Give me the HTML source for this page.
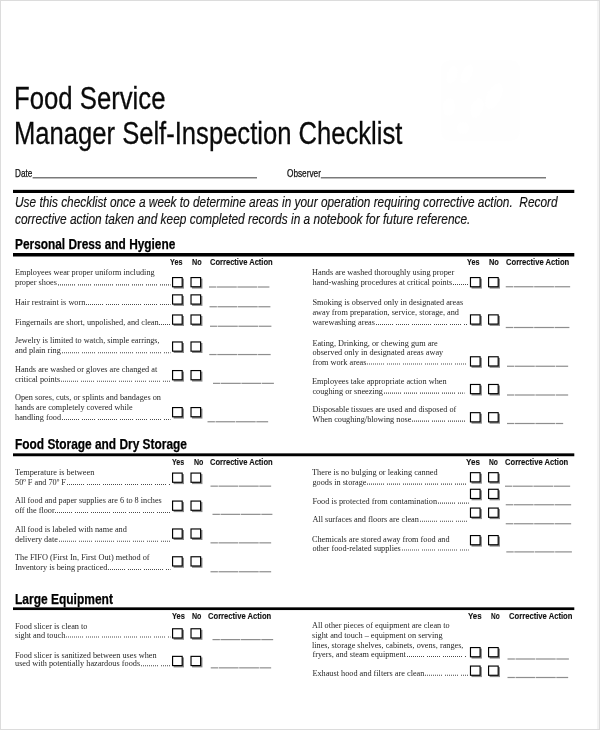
<!DOCTYPE html>
<html><head><meta charset="utf-8"><title>Food Service Manager Self-Inspection Checklist</title>
<style>
html,body{margin:0;padding:0;background:#fff;}
body{width:600px;height:730px;position:relative;overflow:hidden;}
#pg{position:absolute;left:0;top:0;width:600px;height:730px;will-change:transform;}
.t{position:absolute;white-space:pre;transform-origin:0 0;}
.g{position:absolute;left:0;top:0;}
.dl{stroke:#4a4a4a;stroke-width:1.1;stroke-dasharray:1 1 1 1 1 1 1 1 1 1 1 1 1 1 1 1 1 3 1 1 1 1 1 1 1 1 1 1 1 1 1 3 1 1 1 1 1 1 1 1 1 1 1 1 1 1 1 1 1 1 1 3 1 1 1 1 1 1 1 1 1 1 1 1 1 3 1 1 1 1 1 1 1 1 1 1 1 3 1 1 1 1 1 1 1 1 1 1 1 3 1 1 1 1 1 1 1 1 1 1 1 1 1 1 1 3 1 1 1 1 1 1 1 1 1 1 1 1 1 3;}
</style></head><body><div id="pg">
<svg width="0" height="0" style="position:absolute"><defs>
<g id="cb"><rect x="1.6" y="1.6" width="10.4" height="10" fill="#8a8a8a"/><rect x="0.57" y="0.57" width="9.6" height="9.2" fill="#fff" stroke="#000" stroke-width="1.15"/></g>
</defs></svg>
<div style="position:absolute;left:0;top:0;width:598px;height:728px;border:1px solid #dcdcdc;"></div>
<div style="position:absolute;left:597px;top:1px;width:2px;height:728px;background:#f4f4f4;"></div>
<svg class="g" width="600" height="200" viewBox="0 0 600 200"><g fill="#fdfdfd" opacity="0.7"><rect x="441" y="60" width="79" height="81" rx="9"/></g><g fill="#fff"><ellipse cx="452" cy="75" rx="5" ry="9" transform="rotate(20 452 75)"/><ellipse cx="467" cy="74" rx="5" ry="10" transform="rotate(25 467 74)"/><ellipse cx="449" cy="107" rx="6" ry="9"/><ellipse cx="477" cy="108" rx="6" ry="10" transform="rotate(20 477 108)"/><ellipse cx="494" cy="96" rx="7" ry="14" transform="rotate(25 494 96)"/><ellipse cx="463" cy="128" rx="6" ry="6"/></g></svg>
<svg class="g" width="600" height="730" viewBox="0 0 600 730">
<rect x="32.60" y="177.20" width="224.40" height="1.20" fill="#5a5a5a"/>
<rect x="320.80" y="177.20" width="225.20" height="1.20" fill="#5a5a5a"/>
<rect x="13.00" y="189.85" width="561.30" height="3.15" fill="#000"/>
<rect x="13.00" y="253.00" width="561.30" height="3.50" fill="#000"/>
<rect x="13.00" y="453.35" width="561.30" height="2.90" fill="#000"/>
<rect x="13.00" y="607.35" width="561.30" height="2.70" fill="#000"/>
<rect x="209.00" y="286.40" width="7.40" height="1.20" fill="#8e8e8e"/>
<rect x="217.00" y="286.40" width="19.80" height="1.20" fill="#8e8e8e"/>
<rect x="237.40" y="286.40" width="19.80" height="1.20" fill="#8e8e8e"/>
<rect x="257.80" y="286.40" width="11.60" height="1.20" fill="#8e8e8e"/>
<rect x="209.50" y="306.15" width="7.40" height="1.20" fill="#8e8e8e"/>
<rect x="217.50" y="306.15" width="19.80" height="1.20" fill="#8e8e8e"/>
<rect x="237.90" y="306.15" width="19.80" height="1.20" fill="#8e8e8e"/>
<rect x="258.30" y="306.15" width="12.10" height="1.20" fill="#8e8e8e"/>
<rect x="210.00" y="325.65" width="7.40" height="1.20" fill="#8e8e8e"/>
<rect x="218.00" y="325.65" width="19.80" height="1.20" fill="#8e8e8e"/>
<rect x="238.40" y="325.65" width="19.80" height="1.20" fill="#8e8e8e"/>
<rect x="258.80" y="325.65" width="12.60" height="1.20" fill="#8e8e8e"/>
<rect x="209.25" y="353.95" width="7.40" height="1.20" fill="#8e8e8e"/>
<rect x="217.25" y="353.95" width="19.80" height="1.20" fill="#8e8e8e"/>
<rect x="237.65" y="353.95" width="19.80" height="1.20" fill="#8e8e8e"/>
<rect x="258.05" y="353.95" width="12.60" height="1.20" fill="#8e8e8e"/>
<rect x="213.00" y="382.75" width="7.40" height="1.20" fill="#8e8e8e"/>
<rect x="221.00" y="382.75" width="19.80" height="1.20" fill="#8e8e8e"/>
<rect x="241.40" y="382.75" width="19.80" height="1.20" fill="#8e8e8e"/>
<rect x="261.80" y="382.75" width="12.10" height="1.20" fill="#8e8e8e"/>
<rect x="207.50" y="421.15" width="7.40" height="1.20" fill="#8e8e8e"/>
<rect x="215.50" y="421.15" width="19.80" height="1.20" fill="#8e8e8e"/>
<rect x="235.90" y="421.15" width="19.80" height="1.20" fill="#8e8e8e"/>
<rect x="256.30" y="421.15" width="11.85" height="1.20" fill="#8e8e8e"/>
<rect x="505.75" y="286.15" width="7.40" height="1.20" fill="#8e8e8e"/>
<rect x="513.75" y="286.15" width="19.80" height="1.20" fill="#8e8e8e"/>
<rect x="534.15" y="286.15" width="19.80" height="1.20" fill="#8e8e8e"/>
<rect x="554.55" y="286.15" width="15.60" height="1.20" fill="#8e8e8e"/>
<rect x="505.75" y="326.90" width="7.40" height="1.20" fill="#8e8e8e"/>
<rect x="513.75" y="326.90" width="19.80" height="1.20" fill="#8e8e8e"/>
<rect x="534.15" y="326.90" width="19.80" height="1.20" fill="#8e8e8e"/>
<rect x="554.55" y="326.90" width="14.85" height="1.20" fill="#8e8e8e"/>
<rect x="507.00" y="365.65" width="7.40" height="1.20" fill="#8e8e8e"/>
<rect x="515.00" y="365.65" width="19.80" height="1.20" fill="#8e8e8e"/>
<rect x="535.40" y="365.65" width="19.80" height="1.20" fill="#8e8e8e"/>
<rect x="555.80" y="365.65" width="12.35" height="1.20" fill="#8e8e8e"/>
<rect x="507.00" y="394.40" width="7.40" height="1.20" fill="#8e8e8e"/>
<rect x="515.00" y="394.40" width="19.80" height="1.20" fill="#8e8e8e"/>
<rect x="535.40" y="394.40" width="19.80" height="1.20" fill="#8e8e8e"/>
<rect x="555.80" y="394.40" width="12.35" height="1.20" fill="#8e8e8e"/>
<rect x="507.00" y="422.90" width="7.40" height="1.20" fill="#8e8e8e"/>
<rect x="515.00" y="422.90" width="19.80" height="1.20" fill="#8e8e8e"/>
<rect x="535.40" y="422.90" width="19.80" height="1.20" fill="#8e8e8e"/>
<rect x="555.80" y="422.90" width="7.35" height="1.20" fill="#8e8e8e"/>
<rect x="210.50" y="485.55" width="7.40" height="1.20" fill="#8e8e8e"/>
<rect x="218.50" y="485.55" width="19.80" height="1.20" fill="#8e8e8e"/>
<rect x="238.90" y="485.55" width="19.80" height="1.20" fill="#8e8e8e"/>
<rect x="259.30" y="485.55" width="11.85" height="1.20" fill="#8e8e8e"/>
<rect x="212.50" y="513.75" width="7.40" height="1.20" fill="#8e8e8e"/>
<rect x="220.50" y="513.75" width="19.80" height="1.20" fill="#8e8e8e"/>
<rect x="240.90" y="513.75" width="19.80" height="1.20" fill="#8e8e8e"/>
<rect x="261.30" y="513.75" width="11.10" height="1.20" fill="#8e8e8e"/>
<rect x="210.50" y="542.25" width="7.40" height="1.20" fill="#8e8e8e"/>
<rect x="218.50" y="542.25" width="19.80" height="1.20" fill="#8e8e8e"/>
<rect x="238.90" y="542.25" width="19.80" height="1.20" fill="#8e8e8e"/>
<rect x="259.30" y="542.25" width="11.85" height="1.20" fill="#8e8e8e"/>
<rect x="210.50" y="571.15" width="7.40" height="1.20" fill="#8e8e8e"/>
<rect x="218.50" y="571.15" width="19.80" height="1.20" fill="#8e8e8e"/>
<rect x="238.90" y="571.15" width="19.80" height="1.20" fill="#8e8e8e"/>
<rect x="259.30" y="571.15" width="11.85" height="1.20" fill="#8e8e8e"/>
<rect x="505.00" y="485.60" width="7.40" height="1.20" fill="#8e8e8e"/>
<rect x="513.00" y="485.60" width="19.80" height="1.20" fill="#8e8e8e"/>
<rect x="533.40" y="485.60" width="19.80" height="1.20" fill="#8e8e8e"/>
<rect x="553.80" y="485.60" width="16.35" height="1.20" fill="#8e8e8e"/>
<rect x="505.75" y="504.15" width="7.40" height="1.20" fill="#8e8e8e"/>
<rect x="513.75" y="504.15" width="19.80" height="1.20" fill="#8e8e8e"/>
<rect x="534.15" y="504.15" width="19.80" height="1.20" fill="#8e8e8e"/>
<rect x="554.55" y="504.15" width="16.60" height="1.20" fill="#8e8e8e"/>
<rect x="505.75" y="523.15" width="7.40" height="1.20" fill="#8e8e8e"/>
<rect x="513.75" y="523.15" width="19.80" height="1.20" fill="#8e8e8e"/>
<rect x="534.15" y="523.15" width="19.80" height="1.20" fill="#8e8e8e"/>
<rect x="554.55" y="523.15" width="16.60" height="1.20" fill="#8e8e8e"/>
<rect x="506.30" y="551.30" width="7.40" height="1.20" fill="#8e8e8e"/>
<rect x="514.30" y="551.30" width="19.80" height="1.20" fill="#8e8e8e"/>
<rect x="534.70" y="551.30" width="19.80" height="1.20" fill="#8e8e8e"/>
<rect x="555.10" y="551.30" width="16.80" height="1.20" fill="#8e8e8e"/>
<rect x="212.50" y="639.00" width="7.40" height="1.20" fill="#8e8e8e"/>
<rect x="220.50" y="639.00" width="19.80" height="1.20" fill="#8e8e8e"/>
<rect x="240.90" y="639.00" width="19.80" height="1.20" fill="#8e8e8e"/>
<rect x="261.30" y="639.00" width="11.85" height="1.20" fill="#8e8e8e"/>
<rect x="210.75" y="667.25" width="7.40" height="1.20" fill="#8e8e8e"/>
<rect x="218.75" y="667.25" width="19.80" height="1.20" fill="#8e8e8e"/>
<rect x="239.15" y="667.25" width="19.80" height="1.20" fill="#8e8e8e"/>
<rect x="259.55" y="667.25" width="11.60" height="1.20" fill="#8e8e8e"/>
<rect x="507.50" y="658.40" width="7.40" height="1.20" fill="#8e8e8e"/>
<rect x="515.50" y="658.40" width="19.80" height="1.20" fill="#8e8e8e"/>
<rect x="535.90" y="658.40" width="19.80" height="1.20" fill="#8e8e8e"/>
<rect x="556.30" y="658.40" width="12.60" height="1.20" fill="#8e8e8e"/>
<rect x="507.50" y="676.90" width="7.40" height="1.20" fill="#8e8e8e"/>
<rect x="515.50" y="676.90" width="19.80" height="1.20" fill="#8e8e8e"/>
<rect x="535.90" y="676.90" width="19.80" height="1.20" fill="#8e8e8e"/>
<rect x="556.30" y="676.90" width="11.85" height="1.20" fill="#8e8e8e"/>
<use href="#cb" x="172.00" y="277.00"/>
<use href="#cb" x="190.45" y="277.00"/>
<use href="#cb" x="172.00" y="294.30"/>
<use href="#cb" x="190.45" y="294.30"/>
<use href="#cb" x="172.00" y="314.40"/>
<use href="#cb" x="190.45" y="314.40"/>
<use href="#cb" x="172.00" y="341.40"/>
<use href="#cb" x="190.45" y="341.40"/>
<use href="#cb" x="172.00" y="370.00"/>
<use href="#cb" x="190.45" y="370.00"/>
<use href="#cb" x="172.00" y="407.00"/>
<use href="#cb" x="190.45" y="407.00"/>
<use href="#cb" x="469.90" y="277.00"/>
<use href="#cb" x="488.00" y="277.00"/>
<use href="#cb" x="469.90" y="314.30"/>
<use href="#cb" x="488.00" y="314.30"/>
<use href="#cb" x="469.90" y="356.20"/>
<use href="#cb" x="488.00" y="356.20"/>
<use href="#cb" x="469.90" y="383.90"/>
<use href="#cb" x="488.00" y="383.90"/>
<use href="#cb" x="469.90" y="412.10"/>
<use href="#cb" x="488.00" y="412.10"/>
<use href="#cb" x="172.00" y="472.50"/>
<use href="#cb" x="190.45" y="472.50"/>
<use href="#cb" x="172.00" y="500.50"/>
<use href="#cb" x="190.45" y="500.50"/>
<use href="#cb" x="172.00" y="528.40"/>
<use href="#cb" x="190.45" y="528.40"/>
<use href="#cb" x="172.00" y="556.20"/>
<use href="#cb" x="190.45" y="556.20"/>
<use href="#cb" x="469.90" y="472.10"/>
<use href="#cb" x="488.00" y="472.10"/>
<use href="#cb" x="469.90" y="488.70"/>
<use href="#cb" x="488.00" y="488.70"/>
<use href="#cb" x="469.90" y="507.50"/>
<use href="#cb" x="488.00" y="507.50"/>
<use href="#cb" x="469.90" y="535.00"/>
<use href="#cb" x="488.00" y="535.00"/>
<use href="#cb" x="172.00" y="628.20"/>
<use href="#cb" x="190.45" y="628.20"/>
<use href="#cb" x="172.00" y="655.80"/>
<use href="#cb" x="190.45" y="655.80"/>
<use href="#cb" x="469.90" y="647.00"/>
<use href="#cb" x="488.00" y="647.00"/>
<use href="#cb" x="469.90" y="665.50"/>
<use href="#cb" x="488.00" y="665.50"/>
<line class="dl" x1="58" y1="284.90" x2="170.5" y2="284.90"/>
<line class="dl" x1="86" y1="304.50" x2="170.5" y2="304.50"/>
<line class="dl" x1="159" y1="324.50" x2="170.5" y2="324.50"/>
<line class="dl" x1="62" y1="352.80" x2="170.5" y2="352.80"/>
<line class="dl" x1="61" y1="381.30" x2="170.5" y2="381.30"/>
<line class="dl" x1="62" y1="419.50" x2="170.5" y2="419.50"/>
<line class="dl" x1="453" y1="284.50" x2="468.0" y2="284.50"/>
<line class="dl" x1="376" y1="324.50" x2="468.0" y2="324.50"/>
<line class="dl" x1="367" y1="364.00" x2="467.5" y2="364.00"/>
<line class="dl" x1="384" y1="393.10" x2="464.5" y2="393.10"/>
<line class="dl" x1="412" y1="421.10" x2="465.5" y2="421.10"/>
<line class="dl" x1="67" y1="484.50" x2="170.5" y2="484.50"/>
<line class="dl" x1="55" y1="512.50" x2="170.5" y2="512.50"/>
<line class="dl" x1="59" y1="541.25" x2="170.5" y2="541.25"/>
<line class="dl" x1="108" y1="569.50" x2="170.5" y2="569.50"/>
<line class="dl" x1="367" y1="484.10" x2="467.5" y2="484.10"/>
<line class="dl" x1="438" y1="503.10" x2="468.8" y2="503.10"/>
<line class="dl" x1="420" y1="521.30" x2="467.5" y2="521.30"/>
<line class="dl" x1="402" y1="550.00" x2="468.8" y2="550.00"/>
<line class="dl" x1="66" y1="637.00" x2="170.5" y2="637.00"/>
<line class="dl" x1="141" y1="665.70" x2="170.5" y2="665.70"/>
<line class="dl" x1="407" y1="656.50" x2="466.3" y2="656.50"/>
<line class="dl" x1="425" y1="675.25" x2="468.0" y2="675.25"/>
</svg>
<div class="t" style="left:14.0px;top:84px;font:30.8px/1 'Liberation Sans', sans-serif;color:#0a0a0a;-webkit-text-stroke:0.3px #0a0a0a;transform:scaleX(0.8349);">Food Service</div>
<div class="t" style="left:14.0px;top:119px;font:30.8px/1 'Liberation Sans', sans-serif;color:#0a0a0a;-webkit-text-stroke:0.3px #0a0a0a;transform:scaleX(0.8311);">Manager Self-Inspection Checklist</div>
<div class="t" style="left:14.6px;top:169px;font:10.4px/1 'Liberation Sans', sans-serif;color:#111;-webkit-text-stroke:0.25px #111;transform:scaleX(0.7926);">Date</div>
<div class="t" style="left:286.6px;top:169px;font:10.4px/1 'Liberation Sans', sans-serif;color:#111;-webkit-text-stroke:0.25px #111;transform:scaleX(0.7933);">Observer</div>
<div class="t" style="left:14.9px;top:195px;font:italic 14.5px/1 'Liberation Sans', sans-serif;color:#111;-webkit-text-stroke:0.15px #111;transform:scaleX(0.8180);">Use this checklist once a week to determine areas in your operation requiring corrective action.  Record</div>
<div class="t" style="left:14.9px;top:212px;font:italic 14.5px/1 'Liberation Sans', sans-serif;color:#111;-webkit-text-stroke:0.15px #111;transform:scaleX(0.8212);">corrective action taken and keep completed records in a notebook for future reference.</div>
<div class="t" style="left:14.6px;top:237px;font:bold 14px/1 'Liberation Sans', sans-serif;color:#000;-webkit-text-stroke:0.25px #000;transform:scaleX(0.8478);">Personal Dress and Hygiene</div>
<div class="t" style="left:170.1px;top:258px;font:bold 9.2px/1 'Liberation Sans', sans-serif;color:#111;-webkit-text-stroke:0.12px #111;transform:scaleX(0.7826);">Yes</div>
<div class="t" style="left:191.7px;top:258px;font:bold 9.2px/1 'Liberation Sans', sans-serif;color:#111;-webkit-text-stroke:0.12px #111;transform:scaleX(0.7878);">No</div>
<div class="t" style="left:210.4px;top:258px;font:bold 9.2px/1 'Liberation Sans', sans-serif;color:#111;-webkit-text-stroke:0.12px #111;transform:scaleX(0.8223);">Corrective Action</div>
<div class="t" style="left:467.1px;top:258px;font:bold 9.2px/1 'Liberation Sans', sans-serif;color:#111;-webkit-text-stroke:0.12px #111;transform:scaleX(0.7826);">Yes</div>
<div class="t" style="left:488.95px;top:258px;font:bold 9.2px/1 'Liberation Sans', sans-serif;color:#111;-webkit-text-stroke:0.12px #111;transform:scaleX(0.8082);">No</div>
<div class="t" style="left:505.65px;top:258px;font:bold 9.2px/1 'Liberation Sans', sans-serif;color:#111;-webkit-text-stroke:0.12px #111;transform:scaleX(0.8289);">Corrective Action</div>
<div class="t" style="left:14.6px;top:437px;font:bold 14px/1 'Liberation Sans', sans-serif;color:#000;-webkit-text-stroke:0.25px #000;transform:scaleX(0.8499);">Food Storage and Dry Storage</div>
<div class="t" style="left:172.1px;top:458px;font:bold 9.2px/1 'Liberation Sans', sans-serif;color:#111;-webkit-text-stroke:0.12px #111;transform:scaleX(0.7669);">Yes</div>
<div class="t" style="left:193.95px;top:458px;font:bold 9.2px/1 'Liberation Sans', sans-serif;color:#111;-webkit-text-stroke:0.12px #111;transform:scaleX(0.7673);">No</div>
<div class="t" style="left:210.4px;top:458px;font:bold 9.2px/1 'Liberation Sans', sans-serif;color:#111;-webkit-text-stroke:0.12px #111;transform:scaleX(0.8223);">Corrective Action</div>
<div class="t" style="left:466.1px;top:458px;font:bold 9.2px/1 'Liberation Sans', sans-serif;color:#111;-webkit-text-stroke:0.12px #111;transform:scaleX(0.8773);">Yes</div>
<div class="t" style="left:489.45px;top:458px;font:bold 9.2px/1 'Liberation Sans', sans-serif;color:#111;-webkit-text-stroke:0.12px #111;transform:scaleX(0.7265);">No</div>
<div class="t" style="left:504.9px;top:458px;font:bold 9.2px/1 'Liberation Sans', sans-serif;color:#111;-webkit-text-stroke:0.12px #111;transform:scaleX(0.8289);">Corrective Action</div>
<div class="t" style="left:14.6px;top:592px;font:bold 14px/1 'Liberation Sans', sans-serif;color:#000;-webkit-text-stroke:0.25px #000;transform:scaleX(0.8561);">Large Equipment</div>
<div class="t" style="left:172.1px;top:612px;font:bold 9.2px/1 'Liberation Sans', sans-serif;color:#111;-webkit-text-stroke:0.12px #111;transform:scaleX(0.8142);">Yes</div>
<div class="t" style="left:191.95px;top:612px;font:bold 9.2px/1 'Liberation Sans', sans-serif;color:#111;-webkit-text-stroke:0.12px #111;transform:scaleX(0.7673);">No</div>
<div class="t" style="left:208.15px;top:612px;font:bold 9.2px/1 'Liberation Sans', sans-serif;color:#111;-webkit-text-stroke:0.12px #111;transform:scaleX(0.8289);">Corrective Action</div>
<div class="t" style="left:468.35px;top:612px;font:bold 9.2px/1 'Liberation Sans', sans-serif;color:#111;-webkit-text-stroke:0.12px #111;transform:scaleX(0.8615);">Yes</div>
<div class="t" style="left:491.45px;top:612px;font:bold 9.2px/1 'Liberation Sans', sans-serif;color:#111;-webkit-text-stroke:0.12px #111;transform:scaleX(0.7061);">No</div>
<div class="t" style="left:508.65px;top:612px;font:bold 9.2px/1 'Liberation Sans', sans-serif;color:#111;-webkit-text-stroke:0.12px #111;transform:scaleX(0.8321);">Corrective Action</div>
<div class="t" style="left:15px;top:269px;font:8.25px/1 'Liberation Serif', serif;color:#262626;transform:scaleX(0.9956);">Employees wear proper uniform including</div>
<div class="t" style="left:15px;top:337px;font:8.25px/1 'Liberation Serif', serif;color:#262626;transform:scaleX(0.9923);">Jewelry is limited to watch, simple earrings,</div>
<div class="t" style="left:15px;top:366px;font:8.25px/1 'Liberation Serif', serif;color:#262626;">Hands are washed or gloves are changed at</div>
<div class="t" style="left:15px;top:394px;font:8.25px/1 'Liberation Serif', serif;color:#262626;">Open sores, cuts, or splints and bandages on</div>
<div class="t" style="left:15px;top:404px;font:8.25px/1 'Liberation Serif', serif;color:#262626;transform:scaleX(0.9910);">hands are completely covered while</div>
<div class="t" style="left:312.4px;top:269px;font:8.25px/1 'Liberation Serif', serif;color:#262626;transform:scaleX(1.0026);">Hands are washed thoroughly using proper</div>
<div class="t" style="left:312.4px;top:299px;font:8.25px/1 'Liberation Serif', serif;color:#262626;">Smoking is observed only in designated areas</div>
<div class="t" style="left:312.4px;top:309px;font:8.25px/1 'Liberation Serif', serif;color:#262626;">away from preparation, service, storage, and</div>
<div class="t" style="left:312.4px;top:340px;font:8.25px/1 'Liberation Serif', serif;color:#262626;">Eating, Drinking, or chewing gum are</div>
<div class="t" style="left:312.4px;top:349px;font:8.25px/1 'Liberation Serif', serif;color:#262626;">observed only in designated areas away</div>
<div class="t" style="left:312.4px;top:378px;font:8.25px/1 'Liberation Serif', serif;color:#262626;transform:scaleX(1.0026);">Employees take appropriate action when</div>
<div class="t" style="left:312.4px;top:406px;font:8.25px/1 'Liberation Serif', serif;color:#262626;">Disposable tissues are used and disposed of</div>
<div class="t" style="left:15px;top:469px;font:8.25px/1 'Liberation Serif', serif;color:#262626;transform:scaleX(1.0078);">Temperature is between</div>
<div class="t" style="left:15px;top:497px;font:8.25px/1 'Liberation Serif', serif;color:#262626;transform:scaleX(0.9964);">All food and paper supplies are 6 to 8 inches</div>
<div class="t" style="left:15px;top:526px;font:8.25px/1 'Liberation Serif', serif;color:#262626;">All food is labeled with name and</div>
<div class="t" style="left:15px;top:554px;font:8.25px/1 'Liberation Serif', serif;color:#262626;transform:scaleX(1.0057);">The FIFO (First In, First Out) method of</div>
<div class="t" style="left:312.4px;top:469px;font:8.25px/1 'Liberation Serif', serif;color:#262626;transform:scaleX(1.0040);">There is no bulging or leaking canned</div>
<div class="t" style="left:312.4px;top:536px;font:8.25px/1 'Liberation Serif', serif;color:#262626;transform:scaleX(0.9977);">Chemicals are stored away from food and</div>
<div class="t" style="left:15px;top:623px;font:8.25px/1 'Liberation Serif', serif;color:#262626;">Food slicer is clean to</div>
<div class="t" style="left:15px;top:652px;font:8.25px/1 'Liberation Serif', serif;color:#262626;">Food slicer is sanitized between uses when</div>
<div class="t" style="left:312.4px;top:622px;font:8.25px/1 'Liberation Serif', serif;color:#262626;transform:scaleX(0.9961);">All other pieces of equipment are clean to</div>
<div class="t" style="left:312.4px;top:632px;font:8.25px/1 'Liberation Serif', serif;color:#262626;transform:scaleX(1.0034);">sight and touch – equipment on serving</div>
<div class="t" style="left:312.4px;top:642px;font:8.25px/1 'Liberation Serif', serif;color:#262626;transform:scaleX(0.9951);">lines, storage shelves, cabinets, ovens, ranges,</div>
<div class="t" style="left:15px;top:279px;font:8.25px/1 'Liberation Serif', serif;color:#262626;">proper shoes</div>
<div class="t" style="left:15px;top:299px;font:8.25px/1 'Liberation Serif', serif;color:#262626;">Hair restraint is worn</div>
<div class="t" style="left:15px;top:319px;font:8.25px/1 'Liberation Serif', serif;color:#262626;">Fingernails are short, unpolished, and clean</div>
<div class="t" style="left:15px;top:347px;font:8.25px/1 'Liberation Serif', serif;color:#262626;">and plain ring</div>
<div class="t" style="left:15px;top:376px;font:8.25px/1 'Liberation Serif', serif;color:#262626;">critical points</div>
<div class="t" style="left:15px;top:414px;font:8.25px/1 'Liberation Serif', serif;color:#262626;">handling food</div>
<div class="t" style="left:312.4px;top:279px;font:8.25px/1 'Liberation Serif', serif;color:#262626;">hand-washing procedures at critical points</div>
<div class="t" style="left:312.4px;top:319px;font:8.25px/1 'Liberation Serif', serif;color:#262626;">warewashing areas</div>
<div class="t" style="left:312.4px;top:359px;font:8.25px/1 'Liberation Serif', serif;color:#262626;">from work areas</div>
<div class="t" style="left:312.4px;top:388px;font:8.25px/1 'Liberation Serif', serif;color:#262626;">coughing or sneezing</div>
<div class="t" style="left:312.4px;top:416px;font:8.25px/1 'Liberation Serif', serif;color:#262626;">When coughing/blowing nose</div>
<div class="t" style="left:15px;top:479px;font:8.25px/1 'Liberation Serif', serif;color:#262626;">50º F and 70º F</div>
<div class="t" style="left:15px;top:507px;font:8.25px/1 'Liberation Serif', serif;color:#262626;">off the floor</div>
<div class="t" style="left:15px;top:536px;font:8.25px/1 'Liberation Serif', serif;color:#262626;">delivery date</div>
<div class="t" style="left:15px;top:564px;font:8.25px/1 'Liberation Serif', serif;color:#262626;">Inventory is being practiced</div>
<div class="t" style="left:312.4px;top:479px;font:8.25px/1 'Liberation Serif', serif;color:#262626;">goods in storage</div>
<div class="t" style="left:312.4px;top:498px;font:8.25px/1 'Liberation Serif', serif;color:#262626;">Food is protected from contamination</div>
<div class="t" style="left:312.4px;top:516px;font:8.25px/1 'Liberation Serif', serif;color:#262626;">All surfaces and floors are clean</div>
<div class="t" style="left:312.4px;top:545px;font:8.25px/1 'Liberation Serif', serif;color:#262626;">other food-related supplies</div>
<div class="t" style="left:15px;top:632px;font:8.25px/1 'Liberation Serif', serif;color:#262626;">sight and touch</div>
<div class="t" style="left:15px;top:660px;font:8.25px/1 'Liberation Serif', serif;color:#262626;">used with potentially hazardous foods</div>
<div class="t" style="left:312.4px;top:651px;font:8.25px/1 'Liberation Serif', serif;color:#262626;">fryers, and steam equipment</div>
<div class="t" style="left:312.4px;top:670px;font:8.25px/1 'Liberation Serif', serif;color:#262626;">Exhaust hood and filters are clean</div>
</div></body></html>
